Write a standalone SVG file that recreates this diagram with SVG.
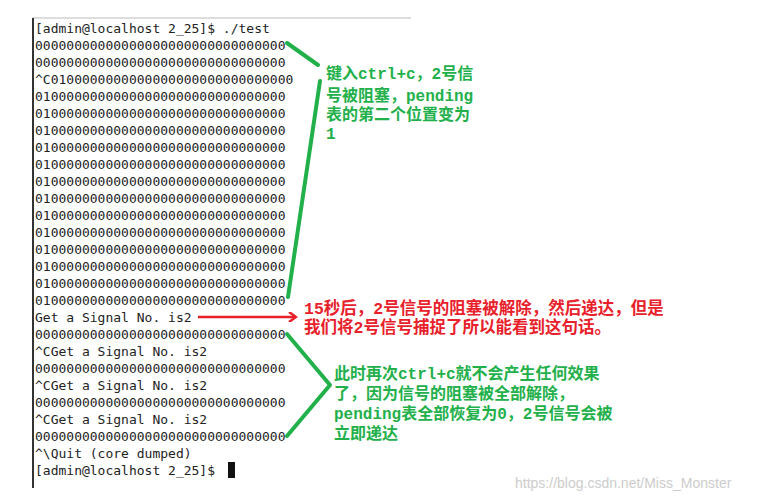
<svg xmlns="http://www.w3.org/2000/svg" width="768" height="501" viewBox="0 0 768 501">
<style>
.t{font-family:"DejaVu Sans Mono",monospace;font-size:13px;fill:#222}
.g{font-family:"Liberation Mono","Noto Sans CJK SC",monospace;font-size:16px;font-weight:bold;fill:#22b04a}
.r{font-family:"Liberation Mono","Noto Sans CJK SC",monospace;font-size:16.5px;font-weight:bold;fill:#e8202a}
.gl{stroke:#22b04a;stroke-width:4;fill:none;stroke-linecap:round;stroke-linejoin:round}
</style>
<defs><marker id="ah" markerWidth="10" markerHeight="10" refX="8" refY="5" orient="auto" markerUnits="userSpaceOnUse"><path d="M1,0 L8,5 L1,10" fill="none" stroke="#e8202a" stroke-width="2.5"/></marker></defs>
<rect width="768" height="501" fill="#fff"/>
<g id="terminal">
<line x1="32" y1="18" x2="411" y2="18" stroke="#bbb" stroke-width="1"/>
<line x1="33" y1="18" x2="33" y2="488" stroke="#333" stroke-width="2"/>
<text class="t" x="35" y="33">[admin@localhost 2_25]$ ./test</text>
<text class="t" x="35" y="50">00000000000000000000000000000000</text>
<text class="t" x="35" y="67">00000000000000000000000000000000</text>
<text class="t" x="35" y="84">^C0100000000000000000000000000000</text>
<text class="t" x="35" y="101">01000000000000000000000000000000</text>
<text class="t" x="35" y="118">01000000000000000000000000000000</text>
<text class="t" x="35" y="135">01000000000000000000000000000000</text>
<text class="t" x="35" y="152">01000000000000000000000000000000</text>
<text class="t" x="35" y="169">01000000000000000000000000000000</text>
<text class="t" x="35" y="186">01000000000000000000000000000000</text>
<text class="t" x="35" y="203">01000000000000000000000000000000</text>
<text class="t" x="35" y="220">01000000000000000000000000000000</text>
<text class="t" x="35" y="237">01000000000000000000000000000000</text>
<text class="t" x="35" y="254">01000000000000000000000000000000</text>
<text class="t" x="35" y="271">01000000000000000000000000000000</text>
<text class="t" x="35" y="288">01000000000000000000000000000000</text>
<text class="t" x="35" y="305">01000000000000000000000000000000</text>
<text class="t" x="35" y="322">Get a Signal No. is2</text>
<text class="t" x="35" y="339">00000000000000000000000000000000</text>
<text class="t" x="35" y="356">^CGet a Signal No. is2</text>
<text class="t" x="35" y="373">00000000000000000000000000000000</text>
<text class="t" x="35" y="390">^CGet a Signal No. is2</text>
<text class="t" x="35" y="407">00000000000000000000000000000000</text>
<text class="t" x="35" y="424">^CGet a Signal No. is2</text>
<text class="t" x="35" y="441">00000000000000000000000000000000</text>
<text class="t" x="35" y="458">^\Quit (core dumped)</text>
<text class="t" x="35" y="475">[admin@localhost 2_25]$</text>
<rect x="228" y="462" width="7" height="16" fill="#111"/>
</g>
<g id="connectors">
<line class="gl" x1="287" y1="43" x2="318" y2="65"/>
<line class="gl" x1="320" y1="81" x2="288" y2="297"/>
<line x1="198" y1="317" x2="296" y2="317" stroke="#e8202a" stroke-width="2.5" marker-end="url(#ah)"/>
<polyline class="gl" points="287,334 330,385 287,436"/>
</g>
<g id="note1">
<text class="g" x="326" y="79">键入ctrl+c，2号信</text>
<text class="g" x="326" y="101">号被阻塞，pending</text>
<text class="g" x="326" y="120">表的第二个位置变为</text>
<text class="g" x="326" y="139">1</text>
</g>
<g id="note2">
<text class="r" x="304" y="314">15秒后，2号信号的阻塞被解除，然后递达，但是</text>
<text class="r" x="304" y="333">我们将2号信号捕捉了所以能看到这句话。</text>
</g>
<g id="note3">
<text class="g" x="334" y="379">此时再次ctrl+c就不会产生任何效果</text>
<text class="g" x="334" y="399">了，因为信号的阻塞被全部解除，</text>
<text class="g" x="334" y="419">pending表全部恢复为0，2号信号会被</text>
<text class="g" x="334" y="439">立即递达</text>
</g>
<text x="515" y="488" font-family="Liberation Sans,sans-serif" font-size="14" fill="#ccc">https://blog.csdn.net/Miss_Monster</text>
</svg>
